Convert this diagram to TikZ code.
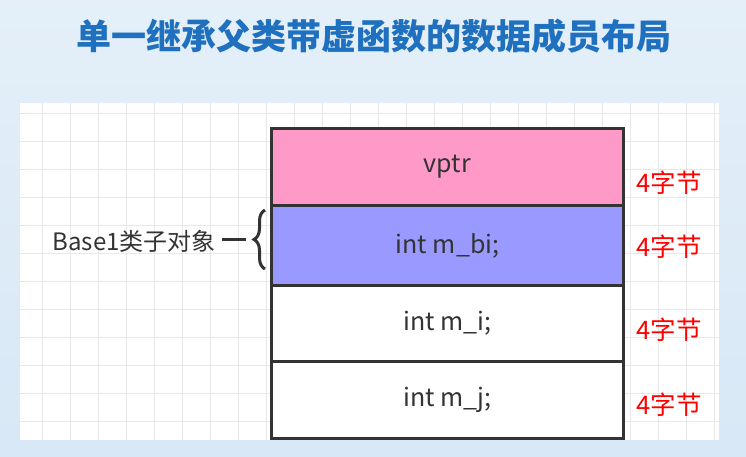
\documentclass[tikz,border=0pt]{standalone}
\usepackage{fontspec}
\setmainfont{Noto Sans CJK SC}
\newfontfamily\cjk{Noto Sans CJK SC}
\usetikzlibrary{decorations.pathreplacing}
\definecolor{bgblue}{HTML}{D8E8F6}
\definecolor{bgwhite}{HTML}{EEF5FB}
\definecolor{titleblue}{HTML}{1F70BE}
\definecolor{gridgray}{HTML}{E8E8E8}
\definecolor{boxline}{HTML}{333333}
\definecolor{pinkfill}{HTML}{FF99C8}
\definecolor{bluefill}{HTML}{9999FF}
\definecolor{sizered}{HTML}{FF0000}
\definecolor{textgray}{HTML}{333333}
\tikzset{
  membox/.style={draw=boxline, line width=3pt, minimum width=352pt, inner sep=0pt, anchor=north west, font=\fontsize{25}{30}\selectfont, text=textgray},
  sizelabel/.style={text=sizered, font=\fontsize{25.5}{30}\selectfont, inner sep=0pt},
}
\begin{document}
\begin{tikzpicture}[x=1pt,y=-1pt]
\useasboundingbox (0,0) rectangle (746,456);
\shade[top color=bgblue!70!white, bottom color=bgblue] (0,0) rectangle (746,456);
% grid panel
\fill[white] (20,103) rectangle (719,440);
\begin{scope}
\clip (20,103) rectangle (719,440);
\foreach \x in {42,70,...,714} \draw[gridgray, line width=1pt] (\x,103) -- (\x,440);
\foreach \y in {113,141,...,440} \draw[gridgray, line width=1pt] (20,\y) -- (719,\y);
\end{scope}
% title
\node[text=titleblue, font=\fontsize{35}{40}\selectfont\bfseries] (title) at (374,36) {单一继承父类带虚函数的数据成员布局};
% boxes
\node[membox, fill=pinkfill, minimum height=77pt] (vptr) at (270,127) {vptr};
\node[membox, fill=bluefill, minimum height=80pt] (mbi) at (270,204) {int m\_bi;};
\node[membox, fill=white, minimum height=76pt] (mi) at (270,284) {int m\_i;};
\node[membox, fill=white, minimum height=77pt] (mj) at (270,360) {int m\_j;};
% size labels
\node[sizelabel] (s1) at (669,183) {4字节};
\node[sizelabel] (s2) at (669,247) {4字节};
\node[sizelabel] (s3) at (669,330) {4字节};
\node[sizelabel] (s4) at (669,405) {4字节};
% brace
\coordinate (bt) at (265,210);
\coordinate (bb) at (265,269);
\draw[boxline, line width=3pt, decorate, decoration={brace, amplitude=11pt, raise=0pt}] (bb) -- (bt);
\coordinate (tip) at (246,239.5);
\node[text=textgray, font=\fontsize{24}{28}\selectfont, inner sep=0pt, anchor=east] (base) at (216,241) {Base1类子对象};
\draw[boxline, line width=3pt] ([xshift=6pt]base.east|-tip) -- (tip);
\end{tikzpicture}
\end{document}
